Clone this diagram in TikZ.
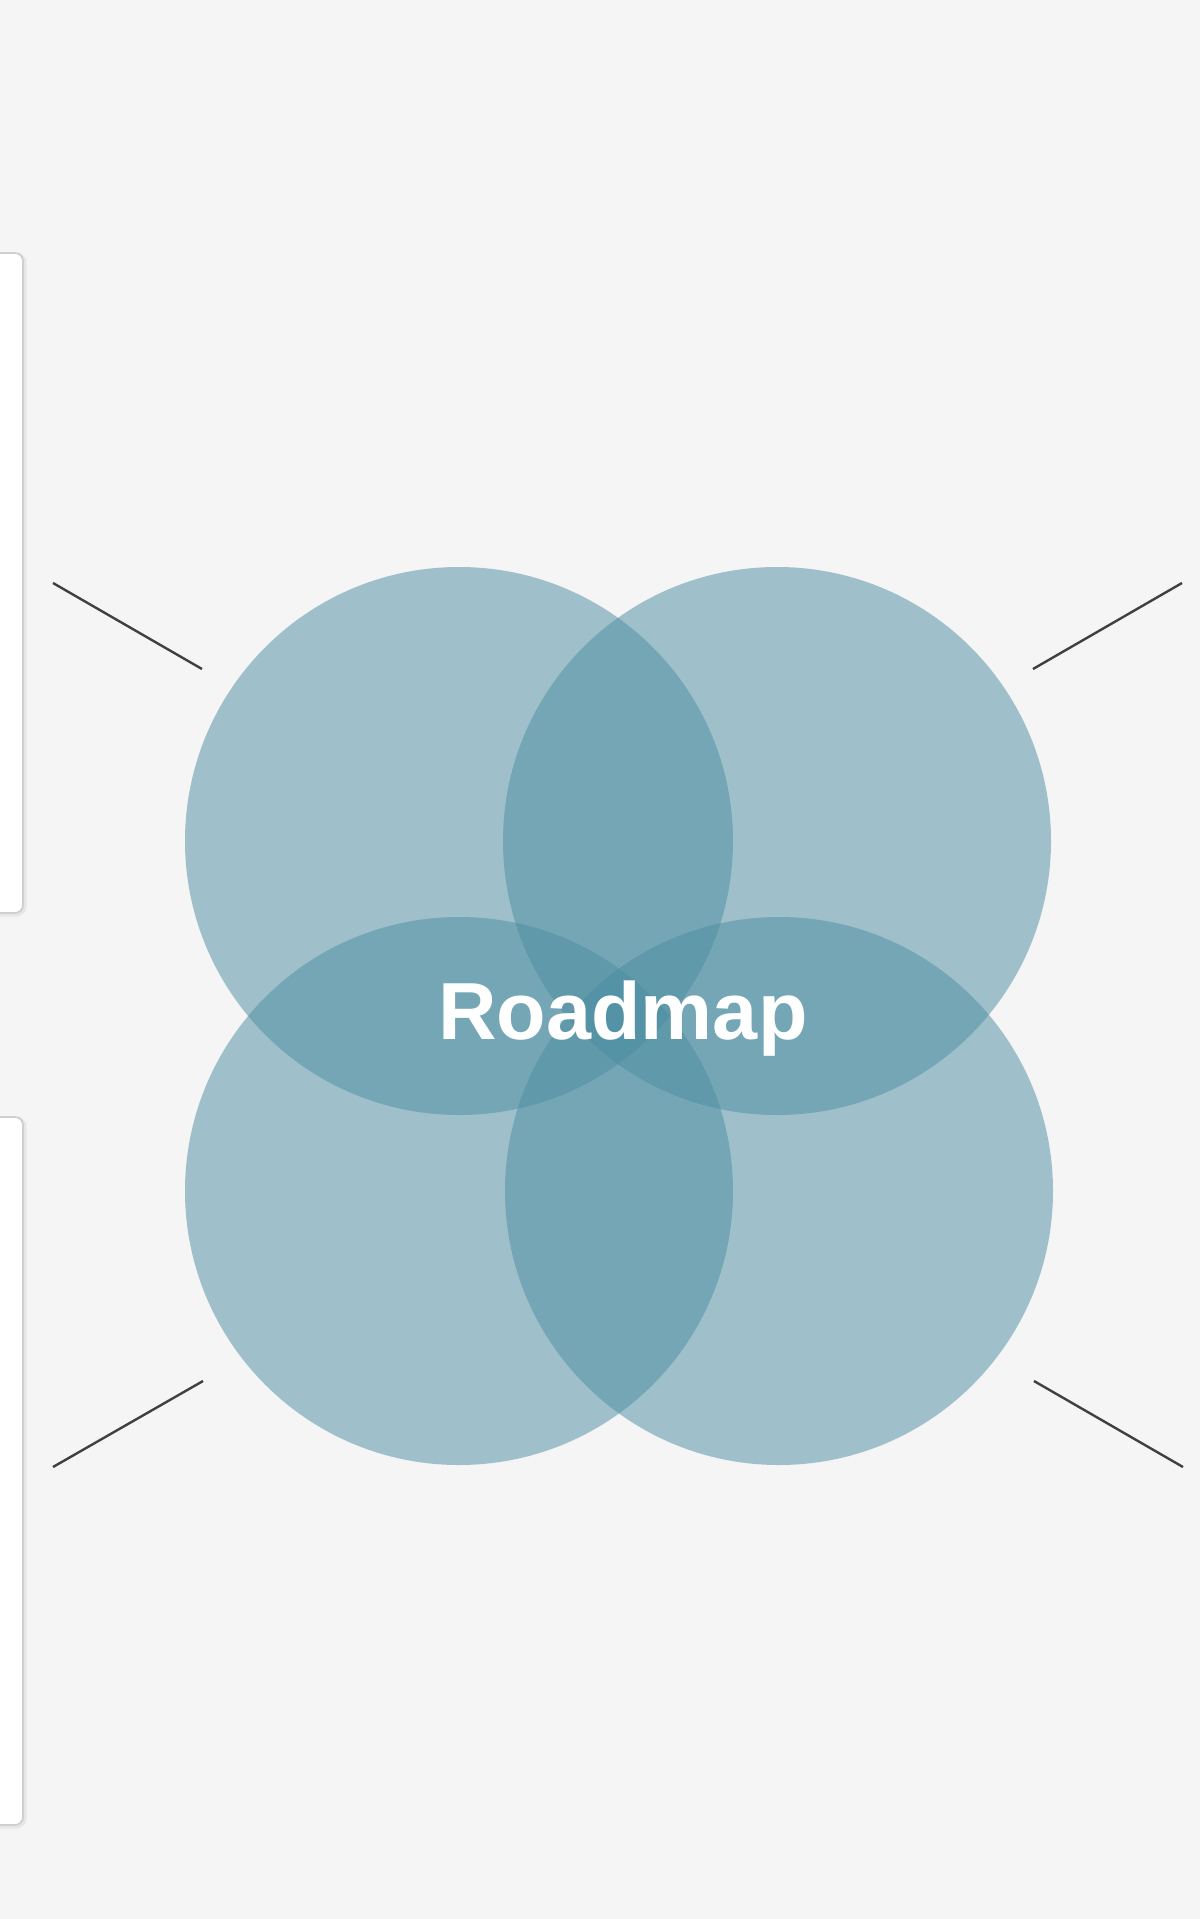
\documentclass[tikz,border=0pt]{standalone}
\usepackage{fontspec}
\setmainfont{Liberation Sans}
\definecolor{bgc}{HTML}{F5F5F5}
\definecolor{circc}{HTML}{4B8DA1}
\definecolor{linec}{HTML}{404040}
\definecolor{boxline}{HTML}{CFCFCF}
\definecolor{shadowc}{HTML}{E6E6E6}
\begin{document}
\begin{tikzpicture}[x=1pt,y=-1pt,
  petal/.style={circle,fill=circc,fill opacity=0.5,minimum size=548pt,inner sep=0pt,draw=none},
  sidebox/.style={draw=boxline,line width=1.8pt,fill=white,rounded corners=8pt},
  boxshadow/.style={draw=shadowc,line width=3pt,rounded corners=9pt},
  leader/.style={draw=linec,line width=2.4pt}]
  \fill[bgc] (0,0) rectangle (1200,1919);
  \useasboundingbox (0,0) rectangle (1200,1919);
  % side boxes (cut by left edge)
  \draw[boxshadow] (-30,254) rectangle (25,915);
  \draw[sidebox] (-30,253) rectangle (23,913);
  \draw[boxshadow] (-30,1118) rectangle (25,1827);
  \draw[sidebox] (-30,1117) rectangle (23,1825);
  % circles
  \node[petal] (tl) at (459,841) {};
  \node[petal] (tr) at (777,841) {};
  \node[petal] (bl) at (459,1191) {};
  \node[petal] (br) at (779,1191) {};
  % leader lines
  \coordinate (a1) at (53,583);   \coordinate (a2) at (202,669);
  \coordinate (b1) at (1182,583); \coordinate (b2) at (1033,669);
  \coordinate (c1) at (53,1467);  \coordinate (c2) at (203,1381);
  \coordinate (d1) at (1183,1467);\coordinate (d2) at (1034,1381);
  \draw[leader] (a1) -- (a2);
  \draw[leader] (b1) -- (b2);
  \draw[leader] (c1) -- (c2);
  \draw[leader] (d1) -- (d2);
  % title
  \node[anchor=base,text=white,font=\fontsize{81}{90}\selectfont\bfseries,inner sep=0pt] (title) at (623,1039) {Roadmap};
\end{tikzpicture}
\end{document}
